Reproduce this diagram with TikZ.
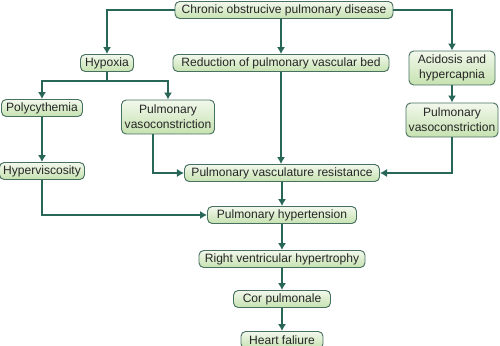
\documentclass[tikz,border=0pt]{standalone}
\usepackage{fontspec}
\setmainfont{Liberation Sans}
\usetikzlibrary{positioning,arrows.meta}
\definecolor{edgeteal}{RGB}{40,102,88}
\definecolor{boxline}{RGB}{72,112,96}
\definecolor{boxtop}{RGB}{242,248,236}
\definecolor{boxbot}{RGB}{198,226,176}

\begin{document}
\begin{tikzpicture}[x=0.03cm, y=-0.03cm,
  font=\fontsize{10.3}{12.5}\selectfont, >={Latex[length=6pt,width=7pt]},
  stage/.style={draw=boxline, line width=0.8pt, rounded corners=4pt,
    top color=boxtop, bottom color=boxbot, align=center, text=black!85,
    inner xsep=2pt, inner ysep=2pt, minimum height=14.5pt},
  tall/.style={stage, minimum height=29pt},
  arr/.style={->, line width=1.6pt, draw=edgeteal}
]
\useasboundingbox (0,0) rectangle (500,346);
\node[stage, minimum width=6.54cm] (copd) at (284,10) {Chronic obstrucive pulmonary disease};
\node[stage, minimum width=1.59cm] (hyp) at (107,63) {Hypoxia};
\node[stage, minimum width=6.48cm] (red) at (281,63) {Reduction of pulmonary vascular bed};
\node[tall, minimum width=2.58cm] (acid) at (452,68) {Acidosis and\\hypercapnia};
\node[stage, minimum width=2.43cm] (poly) at (42,108) {Polycythemia};
\node[tall, minimum width=2.79cm] (vcl) at (168,117) {Pulmonary\\vasoconstriction};
\node[tall, minimum width=2.76cm] (vcr) at (452,120) {Pulmonary\\vasoconstriction};
\node[stage, minimum width=2.55cm] (hv) at (42,171) {Hyperviscosity};
\node[stage, minimum width=5.85cm] (res) at (282,173) {Pulmonary vasculature resistance};
\node[stage, minimum width=4.47cm] (ph) at (282,215) {Pulmonary hypertension};
\node[stage, minimum width=4.98cm] (rvh) at (282,259) {Right ventricular hypertrophy};
\node[stage, minimum width=2.91cm] (cor) at (282,299) {Cor pulmonale};
\node[stage, minimum width=2.46cm] (hf) at (282,340) {Heart faliure};
% branches from COPD
\draw[arr] (copd.west) -| (hyp.north);
\draw[arr] (red.north |- copd.south) -- (red.north);
\draw[arr] (copd.east) -| (acid.north);
% hypoxia split
\draw[arr] (hyp.south) -- ++(0,9) coordinate (split) -| (poly.north);
\draw[arr] (split) -| (vcl.north);
\draw[arr] (poly) -- (hv);
\draw[arr] (acid) -- (vcr);
% into resistance
\draw[arr] ([xshift=-0.45cm]vcl.south) |- (res.west);
\draw[arr] (red.south) -- (red.south |- res.north);
\draw[arr] (vcr.south) |- (res.east);
\draw[arr] (hv.south) |- (ph.west);
\foreach \u/\v in {res/ph,ph/rvh,rvh/cor,cor/hf}{\draw[arr] (\u)--(\v);}
\end{tikzpicture}
\end{document}
